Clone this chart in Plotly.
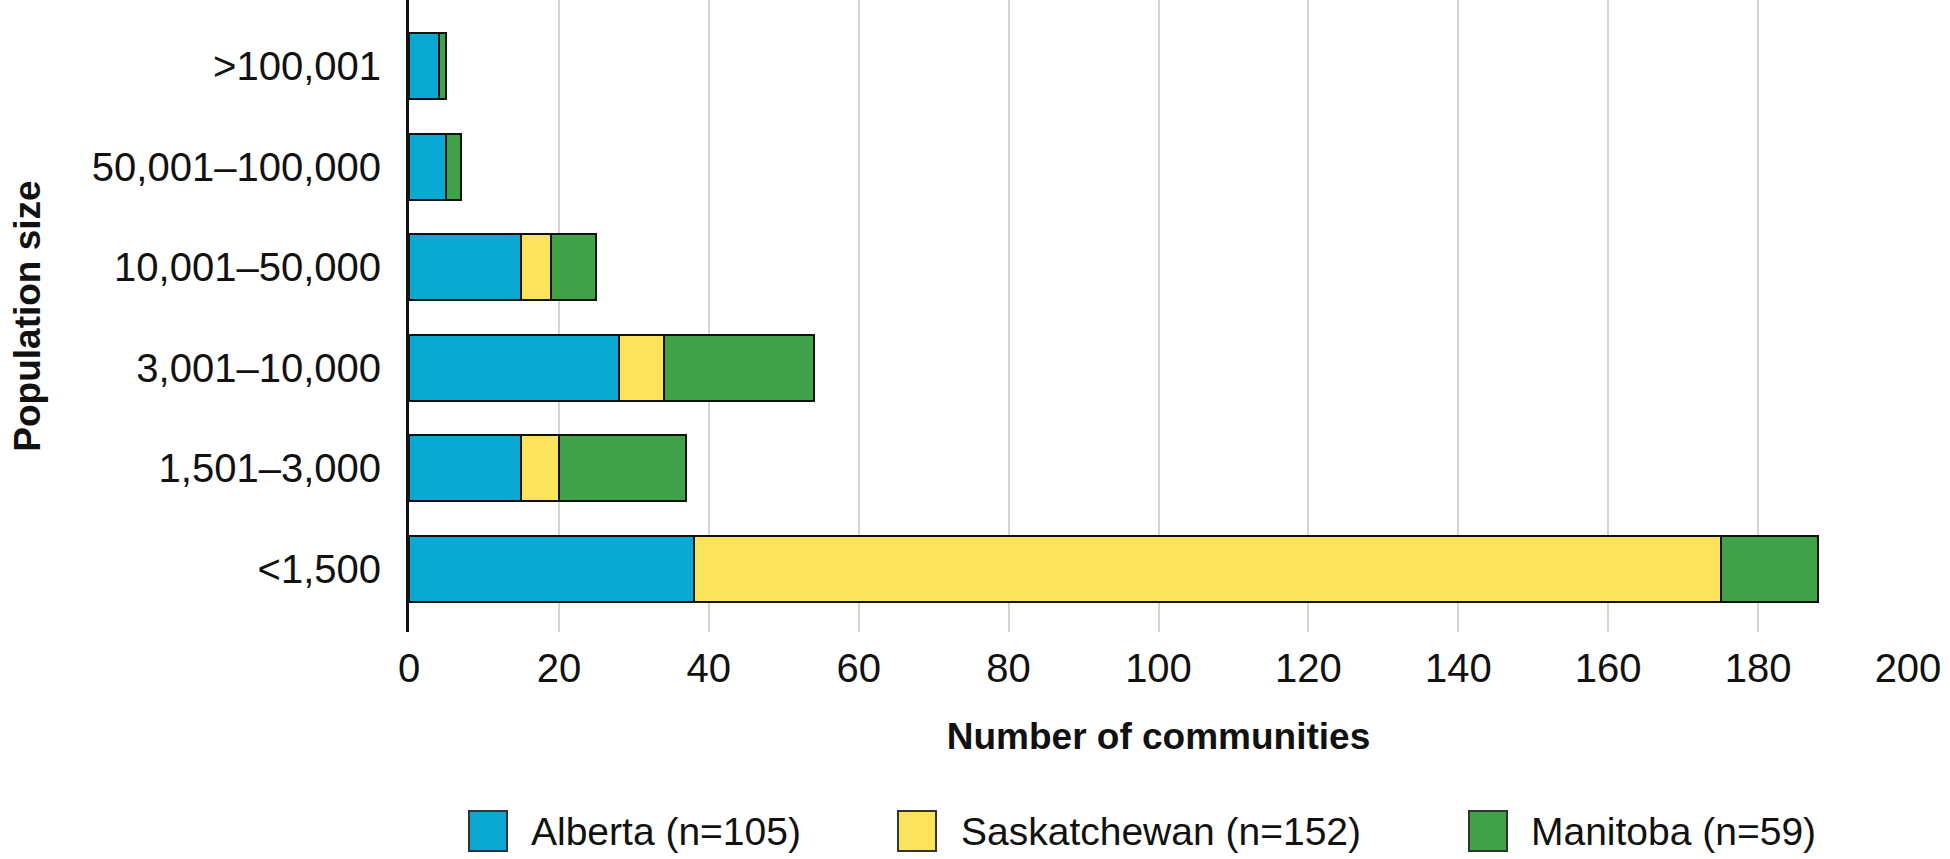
import plotly.graph_objects as go

# population size bands, listed bottom to top
categories = ["<1,500", "1,501–3,000", "3,001–10,000", "10,001–50,000",
              "50,001–100,000", ">100,001"]

alberta = [38, 15, 28, 15, 5, 4]
saskatchewan = [137, 5, 6, 4, 0, 0]
manitoba = [13, 17, 20, 6, 2, 1]

series_names = ["Alberta (n=105)", "Saskatchewan (n=152)", "Manitoba (n=59)"]
series_colors = ["#0AA9D3", "#FBE35B", "#3FA249"]

x_ticks = [0, 20, 40, 60, 80, 100, 120, 140, 160, 180, 200]

W, H = 1950, 859
L, R, T, B = 409, 42, 0, 227
plot_w = W - L - R
plot_h = H - T - B


def px_x(px):
    return (px - L) / plot_w


def px_y(py):
    return (T + plot_h - py) / plot_h


FONT = "Liberation Sans"

fig = go.Figure()
for name, vals, col in zip(series_names, [alberta, saskatchewan, manitoba], series_colors):
    fig.add_trace(go.Bar(
        y=categories,
        x=vals,
        name=name,
        orientation="h",
        marker=dict(color=col, line=dict(color="#111111", width=2)),
        showlegend=False,
    ))

# custom legend with large swatches
legend_box_x = [469, 898, 1469]
legend_text_x = [529, 959, 1529]
shapes = []
annotations = []
for name, col, bx, tx in zip(series_names, series_colors, legend_box_x, legend_text_x):
    shapes.append(dict(
        type="rect", xref="paper", yref="paper",
        xsizemode="pixel", ysizemode="pixel",
        xanchor=px_x(bx), yanchor=px_y(831),
        x0=0, x1=38, y0=-20, y1=20,
        fillcolor=col, line=dict(color="#333333", width=2),
    ))
    annotations.append(dict(
        text=name, xref="paper", yref="paper",
        x=px_x(tx), y=px_y(831), xanchor="left", yanchor="middle",
        showarrow=False, font=dict(family=FONT, size=39, color="#111111"),
    ))

fig.update_layout(
    barmode="stack",
    bargap=0.34,
    width=W,
    height=H,
    margin=dict(l=L, r=R, t=T, b=B),
    plot_bgcolor="white",
    paper_bgcolor="white",
    font=dict(family=FONT, size=40, color="#111111"),
    shapes=shapes,
    annotations=annotations,
    xaxis=dict(
        range=[0, 200],
        tickvals=x_ticks,
        showgrid=True,
        gridcolor="#d4d4d4",
        gridwidth=2,
        zeroline=False,
        showline=False,
        ticks="outside",
        ticklen=1,
        tickcolor="rgba(0,0,0,0)",
        tickfont=dict(size=40),
        title=dict(text="<b>Number of communities</b>", standoff=34,
                   font=dict(size=37)),
    ),
    yaxis=dict(
        categoryorder="array",
        categoryarray=categories,
        range=[-0.63, 5.66],
        showgrid=False,
        zeroline=False,
        showline=True,
        linecolor="#111111",
        linewidth=3,
        ticks="outside",
        ticklen=17,
        tickcolor="rgba(0,0,0,0)",
        tickfont=dict(size=40),
        title=dict(text="<b>Population size</b>", standoff=40,
                   font=dict(size=37)),
    ),
)

# drop the default page margin so the figure sits at the window's corner
fig.write_html("out.html", config={"displayModeBar": False},
               post_script="document.body.style.margin='0';")
